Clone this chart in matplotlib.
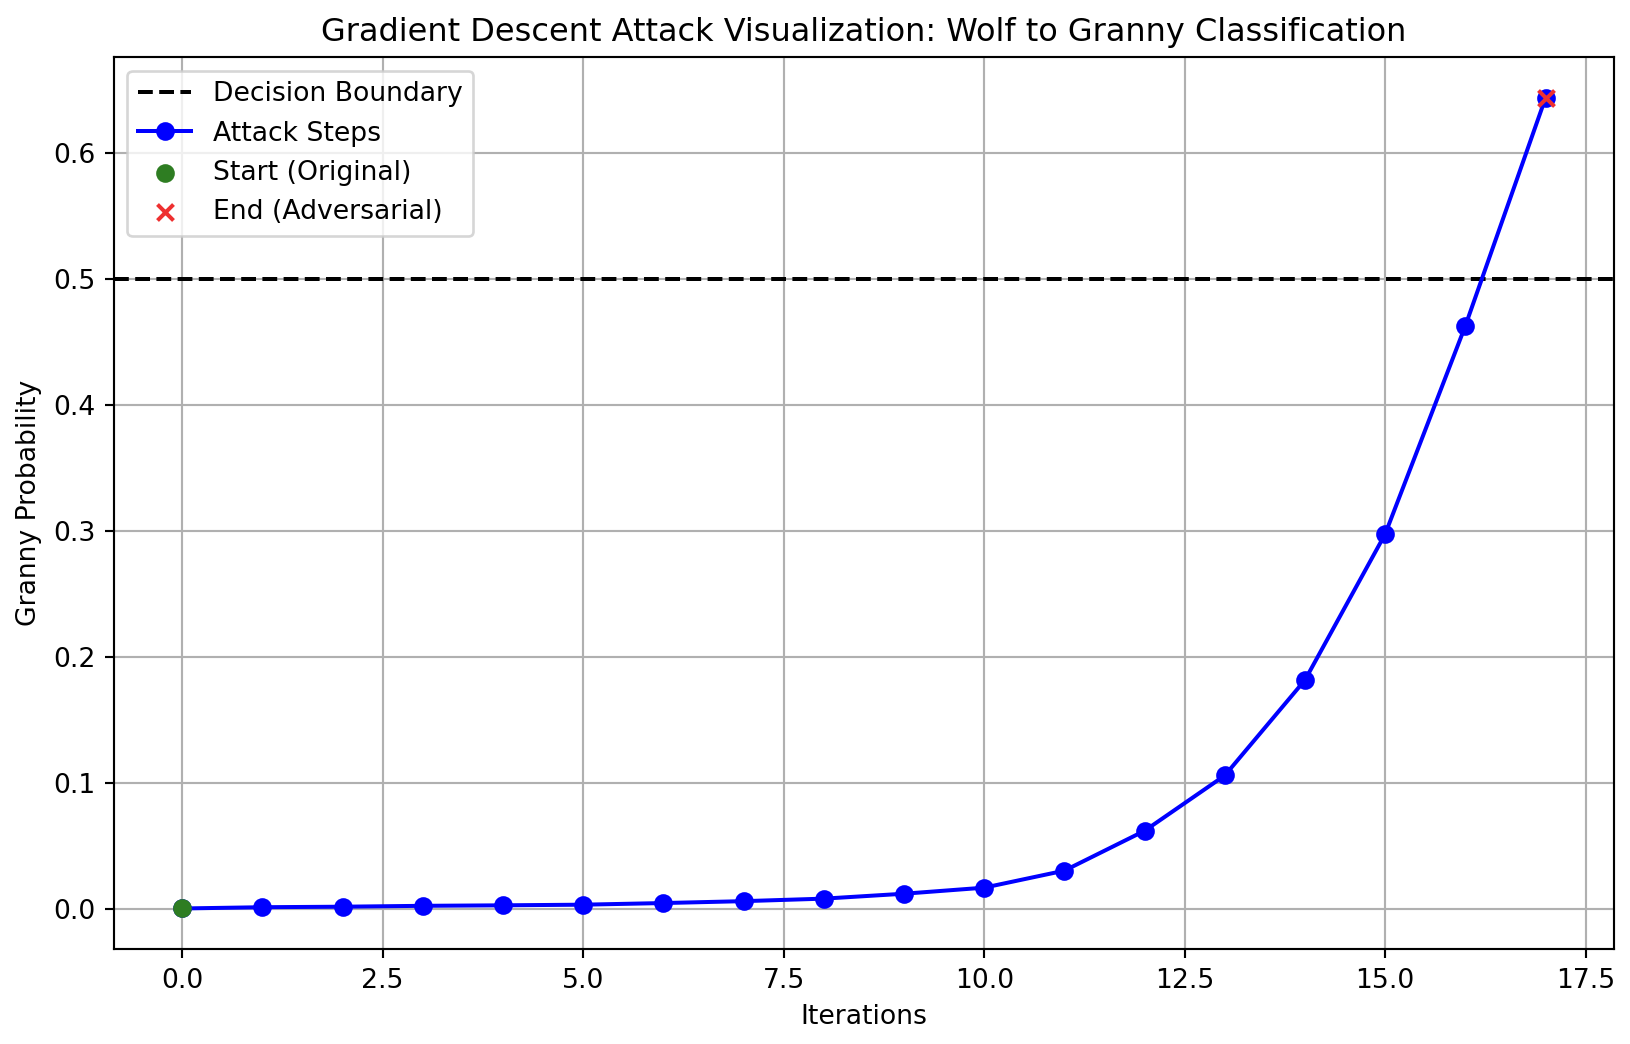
import numpy as np
import matplotlib
matplotlib.use('Agg')
import matplotlib.pyplot as plt

# granny probability at each attack iteration
iterations = list(range(18))
granny_probs = [0.0005, 0.0015, 0.0019, 0.0026, 0.0030, 0.0035, 0.0048, 0.0063,
                0.0083, 0.0122, 0.0170, 0.0305, 0.0621, 0.1060, 0.1817, 0.2975,
                0.4627, 0.6435]
boundary = 0.5

DPI = 192
fig = plt.figure(figsize=(1630 / DPI, 1044 / DPI), dpi=DPI)
ax = fig.add_subplot(111)
fig.subplots_adjust(left=0.070, right=0.990, top=0.945, bottom=0.091)

ax.axhline(y=boundary, color='k', linestyle='--', label='Decision Boundary')
ax.plot(iterations, granny_probs, 'b-o', label='Attack Steps')
ax.scatter(iterations[0], granny_probs[0], color='#2e7d22', zorder=5, label='Start (Original)')
ax.scatter(iterations[-1], granny_probs[-1], color='#ee3030', marker='x', zorder=5,
           label='End (Adversarial)')

ax.set_title('Gradient Descent Attack Visualization: Wolf to Granny Classification')
ax.set_xlabel('Iterations')
ax.set_ylabel('Granny Probability')
ax.legend(loc='upper left')
ax.grid(True)

fig.savefig('out.png', dpi=DPI)
